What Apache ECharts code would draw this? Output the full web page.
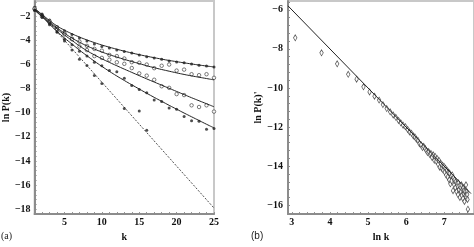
<!DOCTYPE html>
<html lang="en">
<head>
    <meta charset="UTF-8">
    <title>P(k)</title>
    <script type="text/javascript" src="https://cdn.jsdelivr.net/npm/echarts@6.0.0/dist/echarts.min.js"></script>
    <style>
        html, body { margin: 0; padding: 0; background: #fff; }
        #chart { width: 474px; height: 247px; }
    </style>
</head>
<body>
<div id="chart"></div>
<script type="text/javascript">
    // panel (a): k = 1..25
    var kVals = [1,2,3,4,5,6,7,8,9,10,11,12,13,14,15,16,17,18,19,20,21,22,23,24,25];
    var fit1 = [-1.35,-1.85,-2.35,-2.8,-3.15,-3.45,-3.72,-3.96,-4.18,-4.38,-4.56,-4.73,-4.89,-5.04,-5.18,-5.31,-5.43,-5.55,-5.66,-5.76,-5.86,-5.95,-6.04,-6.12,-6.2];
    var fit2 = [-1.4,-1.9,-2.45,-2.95,-3.4,-3.8,-4.15,-4.45,-4.72,-4.96,-5.18,-5.38,-5.57,-5.75,-5.92,-6.1,-6.26,-6.41,-6.55,-6.69,-6.82,-6.94,-7.05,-7.16,-7.27];
    var fit3 = [-1.45,-2.0,-2.55,-3.05,-3.55,-4.0,-4.45,-4.85,-5.2,-5.52,-5.82,-6.1,-6.38,-6.65,-6.92,-7.19,-7.45,-7.71,-7.97,-8.23,-8.49,-8.75,-9.0,-9.25,-9.5];
    var fit4 = [-1.5,-2.05,-2.65,-3.25,-3.8,-4.3,-4.8,-5.27,-5.72,-6.15,-6.56,-6.95,-7.32,-7.68,-8.03,-8.38,-8.72,-9.05,-9.38,-9.7,-10.02,-10.33,-10.64,-10.95,-11.25];
    var pts1 = [-1.25,-1.8,-2.3,-2.95,-3.2,-3.5,-3.8,-4.05,-4.3,-4.5,-4.62,-4.8,-4.92,-5.05,-5.2,-5.35,-5.45,-5.55,-5.7,-5.78,-5.85,-5.95,-6.05,-6.12,-6.2];
    var pts2 = [-1.35,-1.95,-2.4,-2.9,-3.4,-3.85,-4.1,-4.45,-4.7,-4.85,-5.2,-5.3,-5.5,-5.8,-5.85,-6.0,-6.3,-6.1,-6.0,-6.5,-6.42,-6.8,-6.88,-6.8,-7.1];
    var pts3 = [-1.4,-2.0,-2.5,-3.05,-3.5,-3.9,-4.5,-4.8,-5.3,-5.45,-5.6,-5.81,-5.94,-6.29,-6.73,-6.92,-7.26,-7.8,-7.93,-8.45,-8.53,-9.38,-9.52,-9.38,-9.9];
    var pts4 = [-1.5,-2.1,-2.7,-3.3,-3.9,-4.35,-4.9,-5.3,-5.8,-6.1,-6.5,-6.6,-7.13,-7.74,-8.06,-8.33,-8.93,-9.06,-9.6,-9.7,-10.3,-10.65,-10.7,-11.37,-11.3];
    var expK = [1,2,3,4,5,6,7,8,9,10,13,15,16];
    var expPts = [-1.5,-1.9,-2.6,-3.3,-4.04,-4.8,-5.55,-6.07,-6.9,-7.58,-9.65,-9.86,-11.45];
    var expLineK = [2,25];
    var expLine = [-1.9,-17.9];

    // panel (b): ln k against ln P(k)'
    var lnK = [3.09,3.78,4.19,4.48,4.70,4.88,5.04,5.17,5.29,5.39,5.49,5.58,5.66,5.73,5.80,5.86,5.92,5.98,6.04,6.09,
        6.14,6.19,6.23,6.27,6.31,6.35,6.39,6.43,6.46,6.50,6.53,6.56,6.59,6.62,6.65,6.68,6.71,6.74,6.76,6.79,
        6.81,6.84,6.86,6.88,6.91,6.93,6.95,6.97,6.99,7.01,7.03,7.05,7.07,7.09,7.11,7.13,7.14,7.16,7.18,7.19,
        7.21,7.23,7.24,7.26,7.27,7.29,7.30,7.32,7.33,7.35,7.36,7.37,7.39,7.40,7.41,7.43,7.44,7.45,7.46,7.48,
        7.49,7.50,7.51,7.52,7.53,7.55,7.56,7.57,7.58,7.59,7.60,7.61,7.62];
    var lnP = [-7.43,-8.2,-8.76,-9.3,-9.55,-9.94,-10.2,-10.42,-10.62,-10.85,-11.05,-11.22,-11.38,-11.5,-11.66,-11.78,-11.9,-11.98,-12.12,-12.25,
        -12.32,-12.45,-12.5,-12.62,-12.68,-12.85,-12.9,-13.05,-12.98,-13.1,-13.2,-13.3,-13.25,-13.4,-13.35,-13.55,-13.42,-13.7,-13.5,-13.75,
        -13.6,-13.9,-13.7,-14.05,-13.85,-14.1,-13.95,-14.2,-14.0,-14.3,-14.1,-14.45,-14.2,-14.55,-14.3,-14.7,-14.35,-14.9,-14.5,-14.75,
        -14.45,-15.25,-14.6,-14.95,-14.7,-15.1,-14.8,-15.3,-14.9,-15.0,-15.45,-14.85,-15.2,-15.0,-15.6,-15.1,-15.3,-14.95,-15.5,-15.2,
        -15.65,-15.1,-15.4,-15.25,-15.8,-15.3,-15.5,-14.95,-15.6,-15.3,-15.45,-15.7,-16.2];
    var powLineX = [2.9,7.7];
    var powLine = [-5.8,-15.4];

    var aXLabels = [5,10,15,20,25];
    var aYLabels = [-2,-4,-6,-8,-10,-12,-14,-16,-18];
    var bXLabels = [3,4,5,6,7];
    var bYLabels = [-6,-8,-10,-12,-14,-16];

    function pairs(xs, ys) {
        return xs.map(function (x, i) { return [x, ys[i]]; });
    }
    function steps(from, to, step) {
        var out = [];
        for (var v = from; v <= to + 1e-9; v += step) out.push(Math.round(v * 100) / 100);
        return out;
    }

    var labelFont = { fontFamily: 'Liberation Serif', fontWeight: 'bold', fontSize: 10, color: '#111' };
    var minus = function (v) { return String(v).replace('-', '\u2212'); };
    var gray = '#8c8c8c';

    function axis(extra) {
        var base = {
            type: 'value',
            axisLine: { show: true, lineStyle: { color: gray, width: 2 } },
            splitLine: { show: false },
            nameTextStyle: { fontFamily: 'Liberation Serif', fontWeight: 'bold', fontSize: 10, color: '#111' }
        };
        return Object.assign(base, extra);
    }

    var chart = echarts.init(document.getElementById('chart'));
    var dark = '#222';
    // open markers: white fill, thin dark outline
    var openDot = { color: '#fff', borderColor: '#333', borderWidth: 0.8 };
    var option = {
        animation: false,
        backgroundColor: '#fff',
        grid: [
            { left: 29, top: 1, width: 185, height: 222, show: true, borderColor: '#c8c8c8', borderWidth: 2 },
            { left: 288, top: 1, width: 188, height: 221, show: true, borderColor: '#c8c8c8', borderWidth: 2 }
        ],
        xAxis: [
            axis({ gridIndex: 0, min: 1, max: 25, name: 'k', nameLocation: 'middle', nameGap: 15,
                axisTick: { inside: true, length: 2, lineStyle: { color: gray }, customValues: steps(1, 25, 1) },
                axisLabel: Object.assign({ margin: 3, customValues: aXLabels }, labelFont) }),
            axis({ gridIndex: 1, min: 2.9, max: 7.78, name: 'ln k', nameLocation: 'middle', nameGap: 15,
                axisTick: { inside: true, length: 2, lineStyle: { color: gray }, customValues: steps(3, 7.6, 0.2) },
                axisLabel: Object.assign({ margin: 3, customValues: bXLabels }, labelFont) })
        ],
        yAxis: [
            axis({ gridIndex: 0, min: -18.4, max: -0.73, name: 'ln P(k)', nameLocation: 'middle', nameGap: 15,
                axisTick: { inside: true, length: 2, lineStyle: { color: gray }, customValues: steps(-18.4, -0.8, 0.4) },
                axisLabel: Object.assign({ margin: 4, customValues: aYLabels, formatter: minus }, labelFont) }),
            axis({ gridIndex: 1, min: -16.45, max: -5.55, name: "ln P(k)'", nameLocation: 'middle', nameGap: 16,
                axisTick: { inside: true, length: 2, lineStyle: { color: gray }, customValues: steps(-16.4, -5.6, 0.4) },
                axisLabel: Object.assign({ margin: 5, customValues: bYLabels, formatter: minus }, labelFont) })
        ],
        graphic: [
            { type: 'text', left: 1, top: 231, style: { text: '(a)', font: '10px "Liberation Serif"', fill: '#222' } },
            { type: 'text', left: 251, top: 231, style: { text: '(b)', font: '10px "Liberation Sans"', fill: '#222' } }
        ],
        series: [
            { type: 'line', xAxisIndex: 0, yAxisIndex: 0, data: pairs(kVals, fit1), showSymbol: false, smooth: true, lineStyle: { color: dark, width: 1 } },
            { type: 'line', xAxisIndex: 0, yAxisIndex: 0, data: pairs(kVals, fit2), showSymbol: false, smooth: true, lineStyle: { color: dark, width: 1 } },
            { type: 'line', xAxisIndex: 0, yAxisIndex: 0, data: pairs(kVals, fit3), showSymbol: false, smooth: true, lineStyle: { color: dark, width: 1 } },
            { type: 'line', xAxisIndex: 0, yAxisIndex: 0, data: pairs(kVals, fit4), showSymbol: false, smooth: true, lineStyle: { color: dark, width: 1 } },
            { type: 'line', xAxisIndex: 0, yAxisIndex: 0, data: pairs(expLineK, expLine), showSymbol: false, lineStyle: { color: dark, width: 0.8, type: [2, 1.5] } },
            { type: 'scatter', xAxisIndex: 0, yAxisIndex: 0, data: pairs(kVals, pts1), symbol: 'circle', symbolSize: 3, itemStyle: { color: dark } },
            { type: 'scatter', xAxisIndex: 0, yAxisIndex: 0, data: pairs(kVals, pts2), symbol: 'circle', symbolSize: 3.5, itemStyle: openDot },
            { type: 'scatter', xAxisIndex: 0, yAxisIndex: 0, data: pairs(kVals, pts3), symbol: 'circle', symbolSize: 3.5, itemStyle: openDot },
            { type: 'scatter', xAxisIndex: 0, yAxisIndex: 0, data: pairs(kVals, pts4), symbol: 'circle', symbolSize: 3, itemStyle: { color: dark } },
            { type: 'scatter', xAxisIndex: 0, yAxisIndex: 0, data: pairs(expK, expPts), symbol: 'circle', symbolSize: 3, itemStyle: { color: dark } },
            { type: 'line', xAxisIndex: 1, yAxisIndex: 1, data: pairs(powLineX, powLine), showSymbol: false, lineStyle: { color: dark, width: 1 } },
            { type: 'scatter', xAxisIndex: 1, yAxisIndex: 1, data: pairs(lnK, lnP), symbol: 'diamond', symbolSize: [3.5, 6], itemStyle: openDot }
        ]
    };
    chart.setOption(option);
</script>
</body>
</html>
